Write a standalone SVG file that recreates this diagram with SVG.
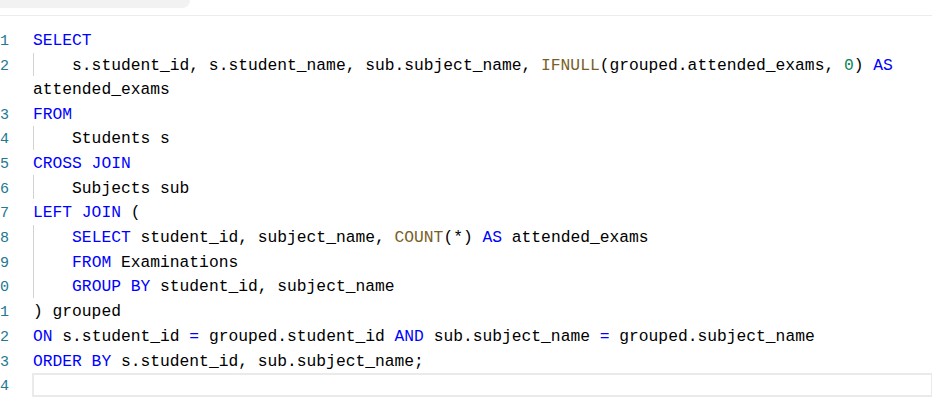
<svg xmlns="http://www.w3.org/2000/svg" width="932" height="410" viewBox="0 0 932 410">
<style>
.c{font-family:"Liberation Mono",monospace;font-size:16.3px;fill:#000;white-space:pre}
.k{fill:#0000ff}.f{fill:#795e26}.n{fill:#098658}
.ln{font-family:"Liberation Mono",monospace;font-size:15px;fill:#237893}
.g{stroke:#d3d3d3;stroke-width:1}
</style>
<rect width="932" height="410" fill="#fff"/>
<g id="header">
<rect x="-10" y="-20" width="200" height="28" rx="8" fill="#f2f2f2"/>
<line x1="0" y1="15.5" x2="932" y2="15.5" stroke="#ececec"/>
</g>
<g id="gutter">
<text class="ln" x="0" y="45">1</text>
<text class="ln" x="0" y="70">2</text>
<text class="ln" x="0" y="119">3</text>
<text class="ln" x="0" y="143">4</text>
<text class="ln" x="0" y="168">5</text>
<text class="ln" x="0" y="193">6</text>
<text class="ln" x="0" y="217">7</text>
<text class="ln" x="0" y="242">8</text>
<text class="ln" x="0" y="267">9</text>
<text class="ln" x="0" y="291">0</text>
<text class="ln" x="0" y="316">1</text>
<text class="ln" x="0" y="341">2</text>
<text class="ln" x="0" y="366">3</text>
<text class="ln" x="0" y="390">4</text>
</g>
<g id="guides">
<line class="g" x1="33.5" y1="53" x2="33.5" y2="76"/>
<line class="g" x1="33.5" y1="126" x2="33.5" y2="150"/>
<line class="g" x1="33.5" y1="175" x2="33.5" y2="199"/>
<line class="g" x1="33.5" y1="225" x2="33.5" y2="298"/>
<rect x="33" y="374" width="899" height="22" fill="none" stroke="#eaeaea" stroke-width="2"/>
</g>
<g id="code">
<text class="c" x="33" y="45"><tspan class="k">SELECT</tspan></text>
<text class="c" x="33" y="70">    s.student_id, s.student_name, sub.subject_name, <tspan class="f">IFNULL</tspan>(grouped.attended_exams, <tspan class="n">0</tspan>) <tspan class="k">AS</tspan></text>
<text class="c" x="33" y="94">attended_exams</text>
<text class="c" x="33" y="119"><tspan class="k">FROM</tspan></text>
<text class="c" x="33" y="143">    Students s</text>
<text class="c" x="33" y="168"><tspan class="k">CROSS JOIN</tspan></text>
<text class="c" x="33" y="193">    Subjects sub</text>
<text class="c" x="33" y="217"><tspan class="k">LEFT JOIN</tspan> (</text>
<text class="c" x="33" y="242">    <tspan class="k">SELECT</tspan> student_id, subject_name, <tspan class="f">COUNT</tspan>(*) <tspan class="k">AS</tspan> attended_exams</text>
<text class="c" x="33" y="267">    <tspan class="k">FROM</tspan> Examinations</text>
<text class="c" x="33" y="291">    <tspan class="k">GROUP BY</tspan> student_id, subject_name</text>
<text class="c" x="33" y="316">) grouped</text>
<text class="c" x="33" y="341"><tspan class="k">ON</tspan> s.student_id <tspan class="k">=</tspan> grouped.student_id <tspan class="k">AND</tspan> sub.subject_name <tspan class="k">=</tspan> grouped.subject_name</text>
<text class="c" x="33" y="366"><tspan class="k">ORDER BY</tspan> s.student_id, sub.subject_name;</text>
</g>
</svg>
